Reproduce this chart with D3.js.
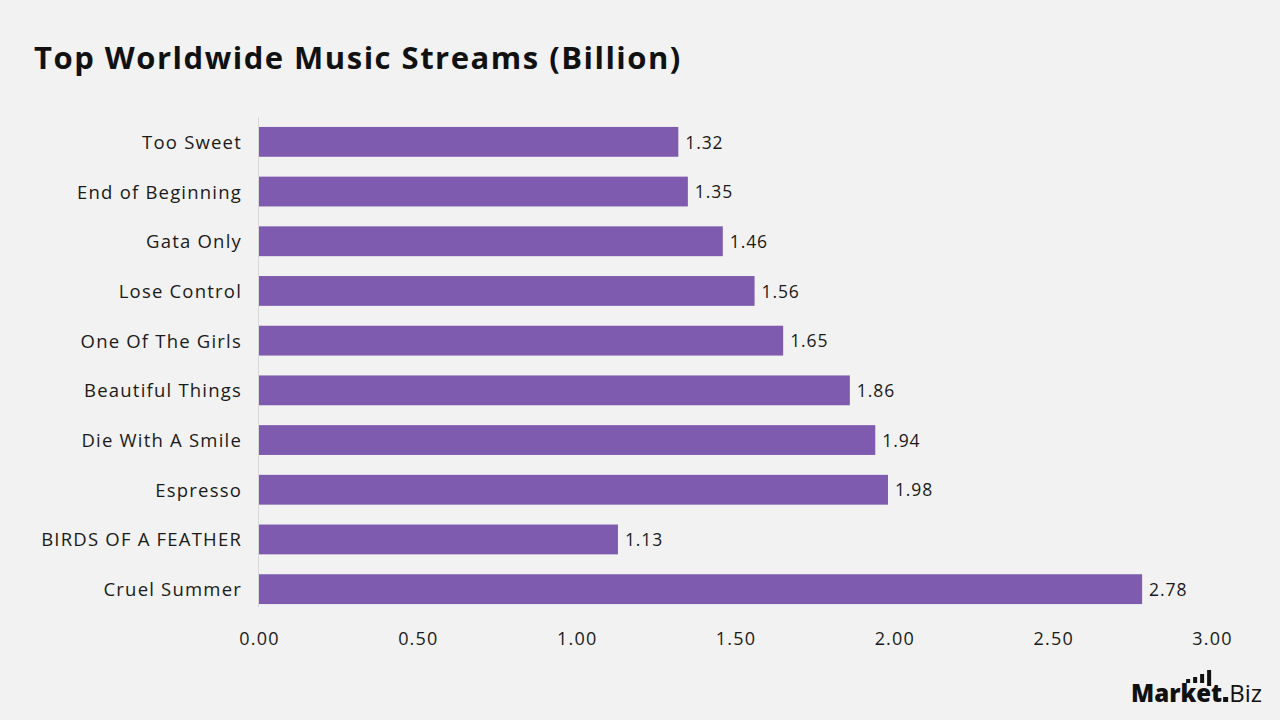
<!DOCTYPE html>
<html>
<head>
<meta charset="utf-8">
<script src="https://cdn.jsdelivr.net/npm/d3@7"></script>
<style>
  html, body { margin: 0; padding: 0; background: #f2f2f2; }
  svg { display: block; }
</style>
</head>
<body>
<svg id="chart" width="1280" height="720"></svg>
<script>
const categories = ["Too Sweet", "End of Beginning", "Gata Only", "Lose Control", "One Of The Girls",
  "Beautiful Things", "Die With A Smile", "Espresso", "BIRDS OF A FEATHER", "Cruel Summer"];
const streams = [1.32, 1.35, 1.46, 1.56, 1.65, 1.86, 1.94, 1.98, 1.13, 2.78];
const xTicks = [0, 0.5, 1, 1.5, 2, 2.5, 3];
const title = "Top Worldwide Music Streams (Billion)";

(function () {
const font = "'Open Sans', 'Noto Sans', sans-serif";
const svg = d3.select("#chart");
svg.append("rect").attr("width", 1280).attr("height", 720).attr("fill", "#f2f2f2");

const pLeft = 259, pRight = 1212, pTop = 117, pBottom = 614;
const x = d3.scaleLinear().domain([0, 3]).range([pLeft, pRight]);
const y = d3.scaleBand().domain(categories).range([pTop, pBottom]).paddingInner(0.4).paddingOuter(0.2);

svg.append("text").attr("x", 34).attr("y", 69)
  .attr("font-family", font).attr("font-weight", 700).attr("font-size", 31)
  .attr("letter-spacing", 1.5)
  .attr("fill", "#111").text(title);

svg.append("line").attr("x1", pLeft - 0.5).attr("x2", pLeft - 0.5).attr("y1", pTop).attr("y2", pBottom - 7)
  .attr("stroke", "#d9d9d9").attr("stroke-width", 1);

svg.selectAll("rect.bar").data(categories).join("rect")
  .attr("class", "bar")
  .attr("x", x(0)).attr("y", d => y(d))
  .attr("width", (d, i) => x(streams[i]) - x(0))
  .attr("height", y.bandwidth())
  .attr("fill", "#7f5baf");

svg.selectAll("text.val").data(categories).join("text")
  .attr("class", "val")
  .attr("x", (d, i) => x(streams[i]) + 7)
  .attr("y", d => y(d) + y.bandwidth() / 2)
  .attr("dy", "0.38em")
  .attr("font-family", font).attr("font-size", 17.5).attr("letter-spacing", 0.9).attr("fill", "#1a1a1a")
  .text((d, i) => streams[i].toFixed(2));

svg.selectAll("text.cat").data(categories).join("text")
  .attr("class", "cat")
  .attr("x", 242)
  .attr("y", d => y(d) + y.bandwidth() / 2)
  .attr("dy", "0.38em")
  .attr("text-anchor", "end")
  .attr("font-family", font).attr("font-size", 18.5).attr("letter-spacing", 1.2).attr("fill", "#1a1a1a")
  .text(d => d);

const xAxis = d3.axisBottom(x).tickValues(xTicks).tickFormat(d3.format(".2f")).tickSize(0).tickPadding(0);
const gx = svg.append("g").attr("transform", `translate(0, ${638})`).call(xAxis);
gx.select(".domain").remove();
gx.selectAll("text").attr("font-family", font).attr("font-size", 18).attr("letter-spacing", 1.2)
  .attr("fill", "#1a1a1a").attr("dy", "0.38em");

const logo = svg.append("g").attr("transform", "translate(1131, 702)");
const mk = logo.append("text").attr("x", 0).attr("y", 0)
  .attr("font-family", font).attr("font-size", 24).attr("font-weight", 800).attr("fill", "#111")
  .text("Market");
const w = mk.node().getComputedTextLength();
const barOffsets = [-36, -29, -22];
const barsTop = [-23, -25, -28];
barOffsets.forEach((o, i) => {
  logo.append("rect").attr("x", w + o).attr("y", barsTop[i]).attr("width", 4).attr("height", -19 - barsTop[i]).attr("fill", "#111");
});
logo.append("rect").attr("x", w - 15).attr("y", -32).attr("width", 4).attr("height", 16).attr("fill", "#111");
logo.append("rect").attr("x", w + 1).attr("y", -5).attr("width", 5).attr("height", 5).attr("fill", "#111");
logo.append("text").attr("x", w + 7).attr("y", 0)
  .attr("font-family", font).attr("font-size", 24).attr("fill", "#111")
  .text("Biz");
})();
</script>
</body>
</html>
